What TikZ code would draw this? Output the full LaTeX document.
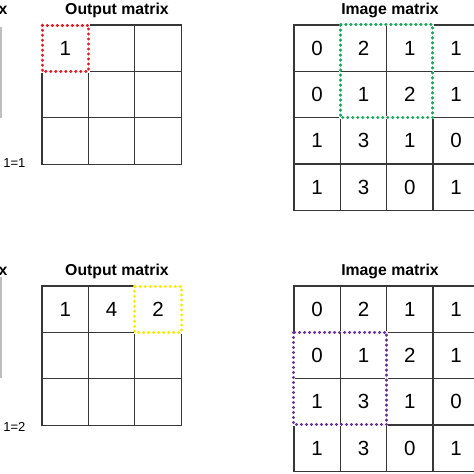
\documentclass[tikz,border=0pt]{standalone}
\usepackage{fontspec}
\setmainfont{Liberation Sans}
\definecolor{gridc}{RGB}{55,55,55}
\definecolor{hlred}{RGB}{230,25,35}
\definecolor{hlgreen}{RGB}{20,170,85}
\definecolor{hlyellow}{RGB}{250,235,0}
\definecolor{hlpurple}{RGB}{105,50,160}
\definecolor{sidegray}{RGB}{190,190,190}
\tikzset{
  cellbox/.style={draw=gridc, line width=1.2pt, minimum size=46.4pt, inner sep=0pt, outer sep=0pt,
    font=\fontsize{20.5}{24}\selectfont},
  titletext/.style={font=\bfseries\fontsize{15.8}{18}\selectfont, anchor=base, inner sep=0pt},
  sidetext/.style={font=\fontsize{13}{15}\selectfont, anchor=base west, inner sep=0pt},
  hlbase/.style={draw=white, line width=2.4pt},
  hl/.style={line width=3pt, line cap=round, dash pattern=on 0.4pt off 4.6pt},
  sideline/.style={draw=sidegray, line width=2.5pt}
}
\begin{document}
\begin{tikzpicture}[x=1pt,y=-1pt]
\useasboundingbox (0,0) rectangle (474,474);
\clip (0,0) rectangle (474,474);
% ---------- top panel ----------
\node[titletext, anchor=base east] (tx) at (7.6,14) {x};
\draw[sideline] (1,27) -- (1,118);
\node[sidetext] (teq) at (3.2,167) {1=1};
\node[titletext] (tot) at (117,14) {Output matrix};
\foreach \r/\c/\v in {0/0/1,0/1/,0/2/,1/0/,1/1/,1/2/,2/0/,2/1/,2/2/}{
  \node[cellbox] (A-\r-\c) at ({42+46.4*\c+23.2},{25+46.4*\r+23.2}) {\v};
}
\draw[hlbase] (A-0-0.north west) rectangle (A-0-0.south east);
\draw[hl, hlred] (A-0-0.north west) rectangle (A-0-0.south east);
\node[titletext] (tim) at (390,14) {Image matrix};
\foreach \r/\c/\v in {0/0/0,0/1/2,0/2/1,0/3/1,
                      1/0/0,1/1/1,1/2/2,1/3/1,
                      2/0/1,2/1/3,2/2/1,2/3/0,
                      3/0/1,3/1/3,3/2/0,3/3/1}{
  \node[cellbox] (B-\r-\c) at ({294+46.3*\c+23.15},{25+46.3*\r+23.15}) {\v};
}
\draw[hlbase] (B-0-1.north west) rectangle (B-1-2.south east);
\draw[hl, hlgreen] (B-0-1.north west) rectangle (B-1-2.south east);
% ---------- bottom panel ----------
\node[titletext, anchor=base east] (bx) at (7.6,275.5) {x};
\draw[sideline] (1,277) -- (1,378);
\node[sidetext] (beq) at (3.2,431) {1=2};
\node[titletext] (bot) at (117,275.5) {Output matrix};
\foreach \r/\c/\v in {0/0/1,0/1/4,0/2/2,1/0/,1/1/,1/2/,2/0/,2/1/,2/2/}{
  \node[cellbox] (C-\r-\c) at ({42+46.4*\c+23.2},{286+46.4*\r+23.2}) {\v};
}
\draw[hlbase] (C-0-2.north west) rectangle (C-0-2.south east);
\draw[hl, hlyellow] (C-0-2.north west) rectangle (C-0-2.south east);
\node[titletext] (bim) at (390,275.5) {Image matrix};
\foreach \r/\c/\v in {0/0/0,0/1/2,0/2/1,0/3/1,
                      1/0/0,1/1/1,1/2/2,1/3/1,
                      2/0/1,2/1/3,2/2/1,2/3/0,
                      3/0/1,3/1/3,3/2/0,3/3/1}{
  \node[cellbox] (D-\r-\c) at ({294+46.3*\c+23.15},{286+46.3*\r+23.15}) {\v};
}
\draw[hlbase] (D-1-0.north west) rectangle (D-2-1.south east);
\draw[hl, hlpurple] (D-1-0.north west) rectangle (D-2-1.south east);
\end{tikzpicture}
\end{document}
